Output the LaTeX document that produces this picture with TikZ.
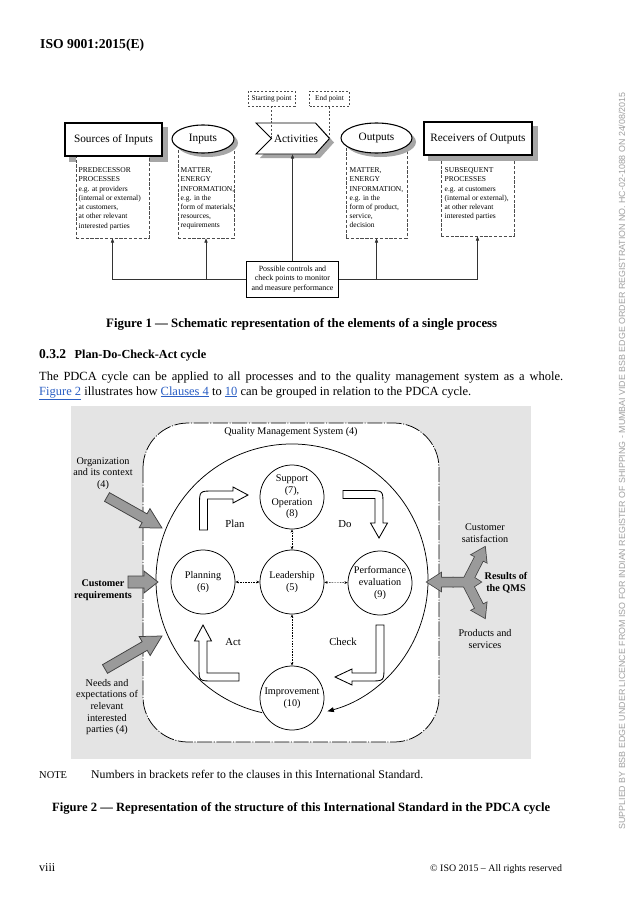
\documentclass[tikz,border=0pt]{standalone}
\usepackage{fontspec}
\setmainfont{Liberation Serif}
\newfontfamily\sidefont{Liberation Sans}
\usetikzlibrary{shapes.geometric,arrows.meta,calc}
\definecolor{bggray}{HTML}{E4E4E4}
\definecolor{shadowgray}{HTML}{A6A6A6}
\definecolor{arrowgray}{HTML}{9A9A9A}
\definecolor{linkblue}{HTML}{2B5FC4}
\definecolor{sidegray}{HTML}{A0A0A0}
\def\pxu{*0.9328pt}
\newcommand\lnk[1]{\textcolor{linkblue}{\underline{#1}}}
\newsavebox\lineBbox
% gray block arrow: [style]{x1}{y1}{x2}{y2}{shaft half}{head half}{head length}
\newcommand\garrow[8][]{%
  \pgfmathsetmacro\gang{atan2((#3)-(#5),(#4)-(#2))}%
  \pgfmathsetmacro\glen{veclen((#4)-(#2),(#5)-(#3))}%
  \pgfmathsetmacro\gbase{\glen-(#8)}%
  \path[#1, shift={(#2,#3)}, rotate=\gang] (0,-#6) -- (\gbase,-#6) -- (\gbase,-#7) -- (\glen,0) -- (\gbase,#7) -- (\gbase,#6) -- (0,#6) -- cycle;}
\begin{document}
\sbox\lineBbox{\fontsize{11}{13}\selectfont\lnk{Figure 2} illustrates how \lnk{Clauses 4} to \lnk{10} can be grouped in relation to the PDCA cycle.}
\begin{tikzpicture}[x=0.9328pt,y=-0.9328pt,
  mainbox/.style={draw=black, line width=1.1pt, fill=white, inner sep=0, font=\fontsize{10.5}{12}\selectfont},
  dbox/.style={draw=black!70, dash pattern=on 3pt off 1.5pt, line width=0.6pt, fill=white},
  smalltxt/.style={font=\fontsize{7}{8.6}\selectfont, align=left, inner sep=0, anchor=north west},
  dsm/.style={draw=black!70, dash pattern=on 2pt off 1.5pt, line width=0.6pt, inner sep=0, minimum height=15\pxu, font=\fontsize{6.8}{8}\selectfont},
  dline/.style={draw=black!70, dash pattern=on 2pt off 1.5pt, line width=0.6pt},
  conn/.style={draw=black!80, line width=0.6pt, -{Triangle[length=4pt,width=3pt]}},
  circ/.style={circle, draw=black, line width=0.7pt, fill=white, minimum size=64\pxu, inner sep=0, align=center, font=\fontsize{9.5}{10.9}\selectfont},
  lbl/.style={inner sep=0, align=center, font=\fontsize{9.5}{10.9}\selectfont},
  blbl/.style={inner sep=0, align=center, font=\fontsize{9.5}{10.9}\selectfont\bfseries},
  pdca/.style={inner sep=0, font=\fontsize{10}{12}\selectfont},
  blockw/.style={draw=black, line width=0.8pt, fill=white, line join=miter},
  garr/.style={draw=black!75, line width=0.7pt, fill=arrowgray},
  garrline/.style={draw=black!75, line width=1.4pt},
  garrfill/.style={fill=arrowgray},
  dasharr/.style={draw=black, line width=0.4pt, dash pattern=on 1.5pt off 1pt, {Stealth[length=3pt,width=2.5pt]}-{Stealth[length=3pt,width=2.5pt]}},
  qmsline/.style={draw=black, line width=0.7pt, dash pattern=on 14pt off 1.5pt on 1pt off 1.5pt},
  onel/.style={inner sep=0, anchor=base west}
]
\useasboundingbox (0,0) rectangle (638,902);
\fill[white] (0,0) rectangle (638,902);

% ---------- header and side text ----------
\node[onel] (hdr) at (40,48.5) {\resizebox{97pt}{!}{\bfseries ISO 9001:2015(E)}};
\node[rotate=90, inner sep=0] (side) at (622,461) {\resizebox{687.5pt}{!}{\sidefont\color{sidegray}SUPPLIED BY BSB EDGE UNDER LICENCE FROM ISO FOR INDIAN REGISTER OF SHIPPING - MUMBAI VIDE BSB EDGE ORDER REGISTRATION NO. HC-02-1088 ON 24/08/2015}};

% ---------- Figure 1 ----------
% dashed boxes
\node[dbox, minimum width=73\pxu, minimum height=78\pxu] (subd) at (477.5,197) {};
\node[smalltxt] (subt) at (444.5,167.5) {SUBSEQUENT\\PROCESSES\\e.g. at customers\\(internal or external),\\at other relevant\\interested parties};
\node[dbox, minimum width=56\pxu, minimum height=99\pxu] (inpd) at (206,188.5) {};
\node[dbox, minimum width=61\pxu, minimum height=100\pxu] (outd) at (376.5,188) {};
% shadows
\node[mainbox, draw=none, fill=none, minimum width=97\pxu, minimum height=33\pxu] (src) at (113.5,139.5) {};
\node[mainbox, draw=none, fill=none, minimum width=108\pxu, minimum height=33\pxu] (rcv) at (478,138.5) {};
\fill[shadowgray] ($(src.south west)+(5,5)$) rectangle ($(src.north east)+(5,5)$);
\fill[shadowgray] ($(rcv.south west)+(5,5)$) rectangle ($(rcv.north east)+(5,5)$);
\fill[shadowgray] (207,143) ellipse [x radius=31, y radius=14];
\fill[shadowgray] (380.5,142) ellipse [x radius=35.5, y radius=15];
\fill[shadowgray] (260,127) -- (320,127) -- (334,142.5) -- (320,158) -- (260,158) -- (275,142.5) -- cycle;
\node[dbox, minimum width=73\pxu, minimum height=82\pxu] (pred) at (112.5,197) {};
% main shapes
\node[mainbox, minimum width=97\pxu, minimum height=33\pxu] (srcb) at (113.5,139.5) {Sources of Inputs};
\node[mainbox, minimum width=108\pxu, minimum height=33\pxu] (rcvb) at (478,138.5) {Receivers of Outputs};
\node[mainbox, ellipse, line width=1pt, minimum width=62\pxu, minimum height=28\pxu] (inp) at (203,139) {Inputs};
\node[mainbox, ellipse, line width=1pt, minimum width=71\pxu, minimum height=30\pxu] (outp) at (376.5,138) {Outputs};
\draw[line width=0.9pt, fill=white] (256,123) -- (315.5,123) -- (329.5,138.5) -- (315.5,154) -- (256,154) -- (271.5,138.5) -- cycle;
\node[inner sep=0, minimum width=50\pxu, minimum height=31\pxu, font=\fontsize{10.5}{12}\selectfont] (act) at (296,138.5) {Activities};
% texts in dashed boxes
\node[smalltxt] (predt) at (78.5,167.5) {PREDECESSOR\\PROCESSES\\e.g. at providers\\(internal or external)\\at customers,\\at other relevant\\interested parties};
\node[smalltxt] (inpt) at (180.5,167.5) {MATTER,\\ENERGY\\INFORMATION,\\e.g. in the\\form of materials,\\resources,\\requirements};
\node[smalltxt] (outt) at (349.5,167.5) {MATTER,\\ENERGY\\INFORMATION,\\e.g. in the\\form of product,\\service,\\decision};
% start / end points
\node[dsm, minimum width=47\pxu] (stp) at (271.5,98.5) {Starting point};
\node[dsm, minimum width=40\pxu] (endp) at (329.5,99) {End point};
\coordinate (notch) at (271.5,138.5);
\coordinate (tip) at (329.5,138.5);
\draw[dline] (stp) -- (notch);
\draw[dline] (endp) -- (tip);
% controls
\node[draw=black, line width=0.8pt, fill=white, minimum width=92\pxu, minimum height=36\pxu, inner sep=0, align=center, font=\fontsize{7.4}{8.5}\selectfont] (ctrl) at (292.5,279) {Possible controls and\\check points to monitor\\and measure performance};
\draw[conn] (ctrl.west) -| (pred.south);
\draw[conn] (inpd.south |- ctrl.west) -- (inpd.south);
\draw[conn] (ctrl.east) -| (subd.south);
\draw[conn] (outd.south |- ctrl.east) -- (outd.south);
\draw[conn] (ctrl.north) -- (ctrl.north |- act.south);

\node[onel] (cap1) at (106,327) {\resizebox{364.7pt}{!}{\bfseries Figure 1 — Schematic representation of the elements of a single process}};

% ---------- heading and paragraph ----------
\node[onel] (h1) at (39,358) {\resizebox{25.2pt}{!}{\bfseries 0.3.2}};
\node[onel] (h2) at (74.4,358) {\resizebox{122.8pt}{!}{\bfseries Plan-Do-Check-Act cycle}};
\pgfmathsetmacro\sfB{403/\wd\lineBbox}
\pgfmathsetmacro\wA{488.8/\sfB}
\node[onel] (p1) at (39,380.5) {\scalebox{\sfB}{\fontsize{11}{13}\selectfont\makebox[\wA pt][s]{The PDCA cycle can be applied to all processes and to the quality management system as a whole.}}};
\node[onel] (p2) at (39,395) {\scalebox{\sfB}{\usebox\lineBbox}};

% ---------- Figure 2 ----------
\fill[bggray] (71,406) rectangle (531,759);
\draw[qmsline, fill=white, rounded corners=42pt] (143,423) rectangle (439,742);
\node[lbl] (qms) at (291,432) {Quality Management System (4)};

% big cycle arc
\draw[line width=0.7pt, -{Triangle[length=6pt,width=4.5pt]}] (292,580) ++(102.7:136) arc[start angle=102.7, end angle=434.9, radius=136];

% circles
\node[circ] (sup) at (292,497) {Support\\(7),\\Operation\\(8)};
\node[circ] (lead) at (292,582) {Leadership\\(5)};
\node[circ] (plan) at (203,582) {Planning\\(6)};
\node[circ] (perf) at (380,583) {Performance\\evaluation\\(9)};
\node[circ] (imp) at (292,698) {Improvement\\(10)};
\draw[dasharr] (lead) -- (sup);
\draw[dasharr] (lead) -- (plan);
\draw[dasharr] (lead) -- (perf);
\draw[dasharr] (lead) -- (imp);

% white bent arrows
\draw[blockw] (199.5,530) -- (199.5,505) .. controls (199.5,491) .. (213.5,491) -- (233,491) -- (233,487) -- (248,495) -- (233,503) -- (233,499) -- (207.5,499) -- (207.5,530) -- cycle;
\draw[blockw] (343,490.5) -- (369,490.5) .. controls (383,490.5) .. (383,504.5) -- (383,523) -- (387.5,523) -- (379,538) -- (370.5,523) -- (375,523) -- (375,498.5) -- (343,498.5) -- cycle;
\draw[blockw] (384,625) -- (384,667) .. controls (384,681) .. (370,681) -- (352,681) -- (352,685) -- (335,677) -- (352,669) -- (352,673) -- (376,673) -- (376,625) -- cycle;
\draw[blockw] (239,681) -- (213,681) .. controls (199,681) .. (199,667) -- (199,641) -- (194.5,641) -- (203,625) -- (211.5,641) -- (207,641) -- (207,673) -- (239,673) -- cycle;
\node[pdca] (lplan) at (235,524) {Plan};
\node[pdca] (ldo) at (345,524) {Do};
\node[pdca] (lact) at (233,642) {Act};
\node[pdca] (lcheck) at (343,642) {Check};

% gray arrows left
\garrow[garr]{107}{497}{162}{528}{5}{11}{20}
\garrow[garr]{128}{582}{158}{582}{6}{11}{14}
\garrow[garr]{105}{669}{162}{636}{5}{11}{20}
% gray arrows right (merged outline)
\garrow[garrline]{453}{582}{427}{582}{4.5}{9}{14}
\garrow[garrline]{453}{582}{481}{582}{4.5}{9}{14}
\garrow[garrline]{467}{582}{485}{547}{4.5}{8.5}{13}
\garrow[garrline]{467}{583}{485}{618}{4.5}{8.5}{13}
\garrow[garrfill]{453}{582}{427}{582}{4.5}{9}{14}
\garrow[garrfill]{453}{582}{481}{582}{4.5}{9}{14}
\garrow[garrfill]{467}{582}{485}{547}{4.5}{8.5}{13}
\garrow[garrfill]{467}{583}{485}{618}{4.5}{8.5}{13}

% outside labels
\node[lbl] (org) at (103,473.5) {Organization\\and its context\\(4)};
\node[blbl] (creq) at (103,590) {Customer\\requirements};
\node[lbl] (needs) at (107,707) {Needs and\\expectations of\\relevant\\interested\\parties (4)};
\node[lbl] (csat) at (485,533) {Customer\\satisfaction};
\node[blbl] (res) at (506,583) {Results of\\the QMS};
\node[lbl] (prod) at (485,639) {Products and\\services};

% ---------- note, caption, footer ----------
\node[onel] (note) at (39,778.5) {\resizebox{26pt}{!}{NOTE}};
\node[onel] (notet) at (91,778.5) {\resizebox{309.7pt}{!}{Numbers in brackets refer to the clauses in this International Standard.}};
\node[onel] (cap2) at (52,811) {\resizebox{464.5pt}{!}{\bfseries Figure 2 — Representation of the structure of this International Standard in the PDCA cycle}};
\node[onel] (pg) at (39,871.5) {\resizebox{15pt}{!}{viii}};
\node[onel] (copy) at (430,871.5) {\resizebox{123pt}{!}{© ISO 2015 – All rights reserved}};
\end{tikzpicture}
\end{document}
